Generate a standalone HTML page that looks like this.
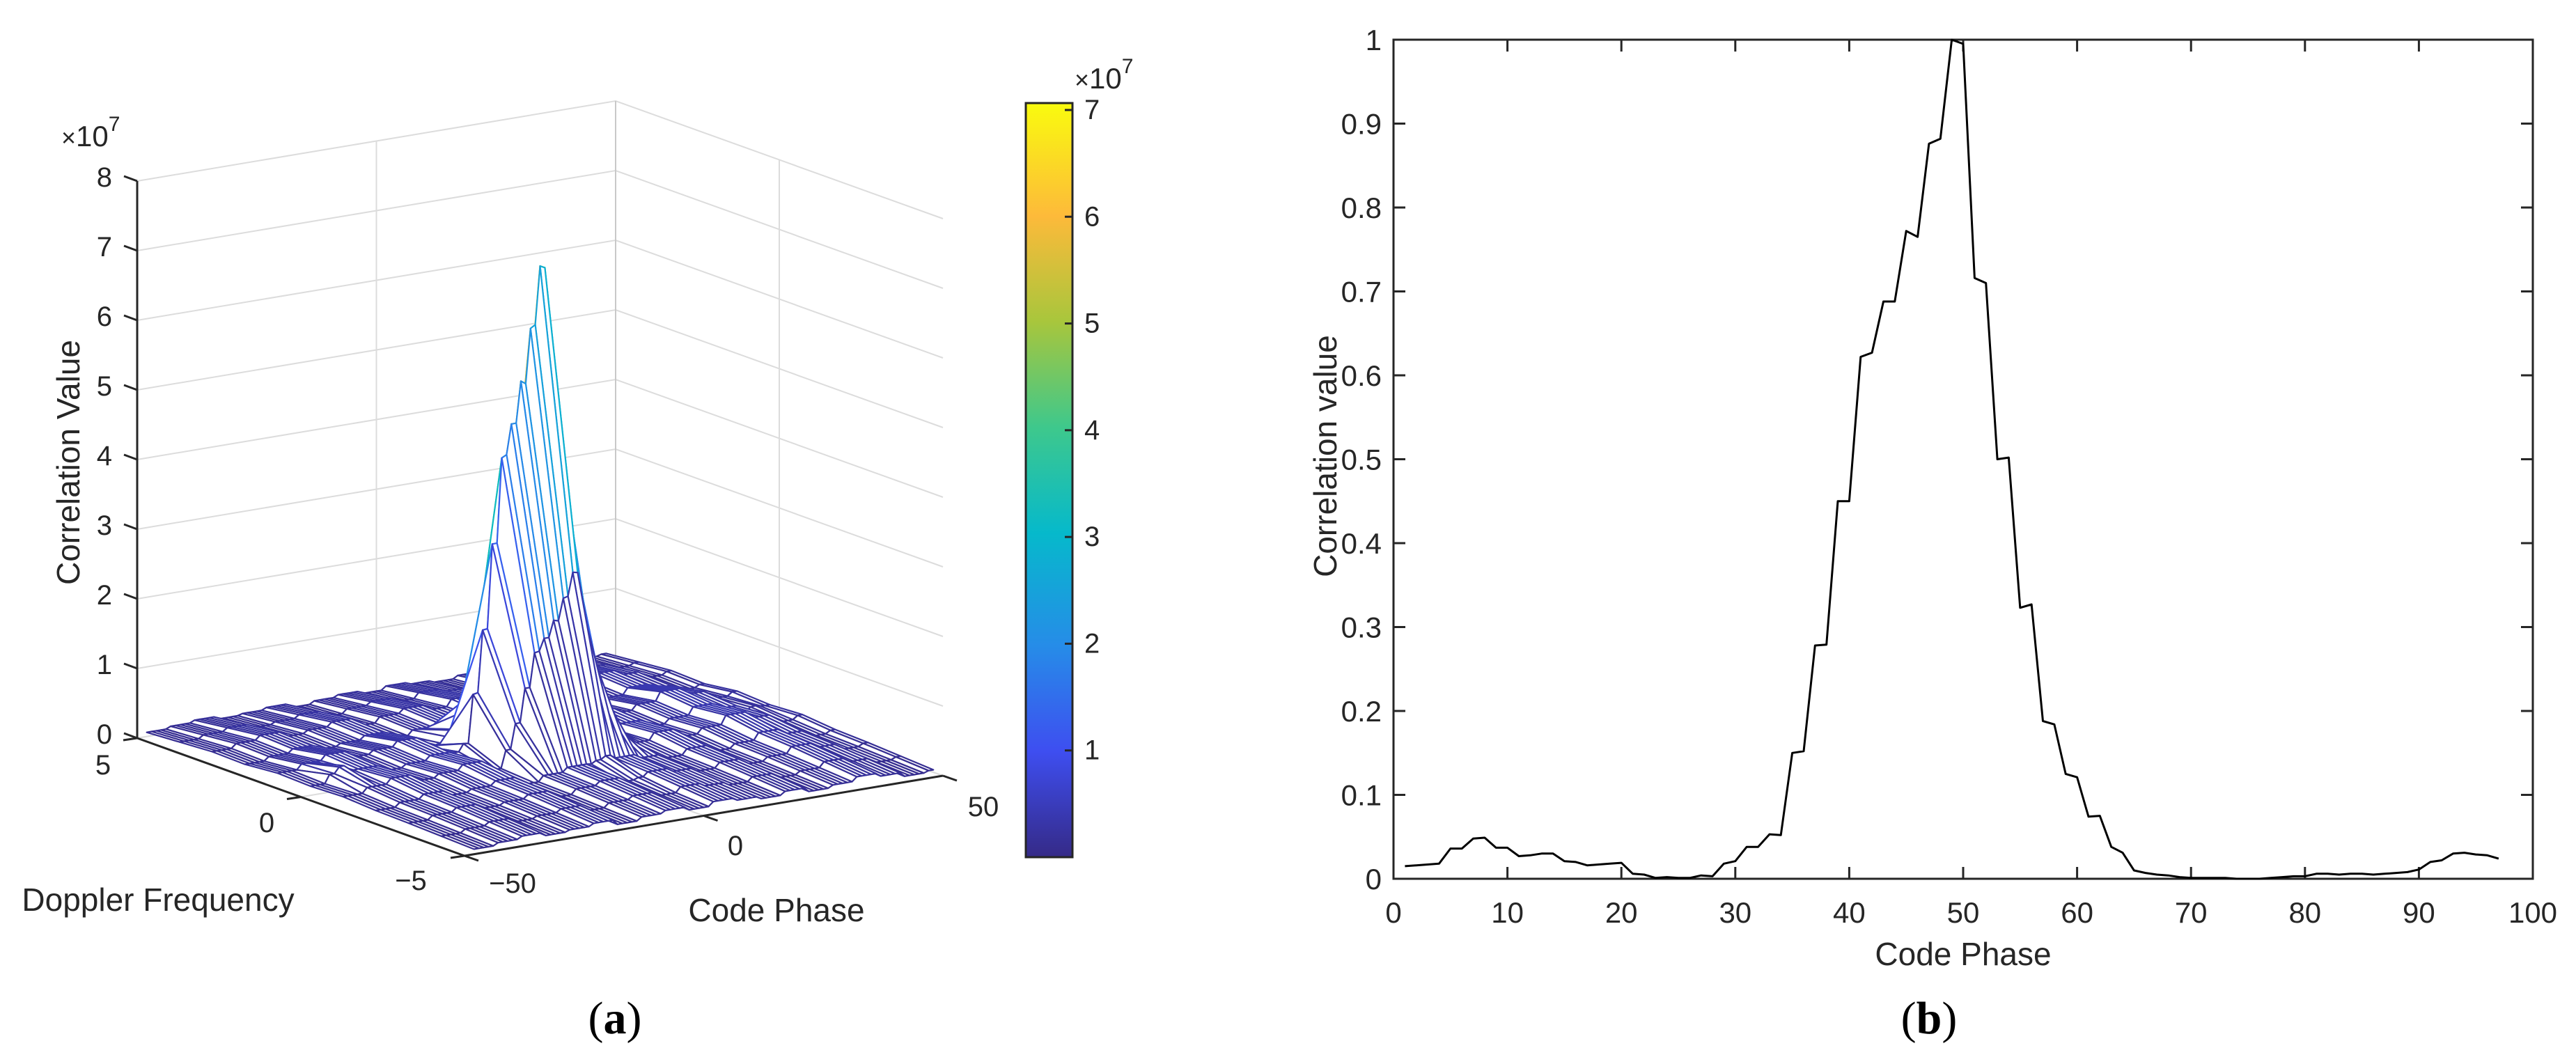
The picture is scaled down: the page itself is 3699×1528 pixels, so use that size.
<!DOCTYPE html>
<html><head><meta charset="utf-8"><style>
html,body{margin:0;padding:0;background:#fff}
svg{display:block}
text{font-family:"Liberation Sans",Arial,sans-serif;fill:#262626}
</style></head><body>
<svg id="fig" width="3699" height="1528" viewBox="0 0 3699 1528" xmlns="http://www.w3.org/2000/svg">
<rect width="3699" height="1528" fill="#fff"/>
<g id="left"></g>
<g id="right"></g>
<text x="883" y="1484" font-size="66" text-anchor="middle" style="font-family:'Liberation Serif',serif;fill:#000">(<tspan font-weight="bold">a</tspan>)</text>
<text x="2770" y="1484" font-size="66" text-anchor="middle" style="font-family:'Liberation Serif',serif;fill:#000">(<tspan font-weight="bold">b</tspan>)</text>
</svg>
<script>
// ---- data: correlation vs code phase (panel b), index 1..97
const codePhase = [];
for (let i = 1; i <= 97; i++) codePhase.push(i);
const corrValues = [0.015,0.016,0.017,0.018,0.036,0.036,0.048,0.049,0.037,0.037,0.027,0.028,0.030,0.030,0.021,0.020,0.016,0.017,0.018,0.019,0.006,0.005,0.001,0.002,0.001,0.001,0.004,0.003,0.018,0.021,0.038,0.038,0.053,0.052,0.150,0.152,0.278,0.279,0.450,0.450,0.622,0.627,0.688,0.688,0.772,0.765,0.876,0.882,1.000,0.995,0.716,0.710,0.500,0.502,0.323,0.327,0.188,0.184,0.125,0.121,0.074,0.075,0.038,0.031,0.010,0.007,0.005,0.004,0.002,0.001,0.001,0.001,0.001,0.000,0.000,0.000,0.001,0.002,0.003,0.003,0.006,0.006,0.005,0.006,0.006,0.005,0.006,0.007,0.008,0.011,0.020,0.022,0.030,0.031,0.029,0.028,0.024];
const xTicks = [0,10,20,30,40,50,60,70,80,90,100];
const yTicks = [0,0.1,0.2,0.3,0.4,0.5,0.6,0.7,0.8,0.9,1];
const yTickLabels = ["0","0.1","0.2","0.3","0.4","0.5","0.6","0.7","0.8","0.9","1"];
// ---- data: 3D surface (panel a)
const dopplerBins = [5,4,3,2,1,0,-1,-2,-3,-4,-5];
const dopplerProfile = [0.01,0.02,0.02,0.03,0.18,1.00,0.40,0.05,0.03,0.02,0.01];
const floorRows = [0.10,0.15,0.20,0.18,0.25,0.22,0.25,0.20,0.18,0.15,0.12];
const floorCode = [0.6,0.9,1.2,0.8,1.0,1.3,0.7,1.1,1.4,1.0,1.5,1.2,0.9,1.3,0.8,1.1,1.6,1.2,0.7,0.9];
const peakValue = 7.05; // x1e7
const zTicks = [0,1,2,3,4,5,6,7,8];
const dopTicks = [5,0,-5];
const codeTicks = [-50,0,50];
const cbTicks = [1,2,3,4,5,6,7];

const NS = "http://www.w3.org/2000/svg";
function mk(parent, tag, attrs, txt) {
  const e = document.createElementNS(NS, tag);
  for (const k in attrs) e.setAttribute(k, attrs[k]);
  if (txt !== undefined) e.textContent = txt;
  parent.appendChild(e);
  return e;
}

// ================= panel b =================
const R = document.getElementById('right');
const L = 2001, Rt = 3637, T = 57, B = 1262;
const sx = v => L + (v - 0) / 100 * (Rt - L);
const sy = v => B - v * (B - T);
let e;
e = mk(R, 'rect', {x: L, y: T, width: Rt - L, height: B - T, fill: 'none', stroke: '#262626', 'stroke-width': 3});


xTicks.forEach(t => {
  const x = sx(t);
  e = mk(R, 'line', {x1: x, y1: B, x2: x, y2: B - 17, stroke: '#262626', 'stroke-width': 3});
  
  
  e = mk(R, 'line', {x1: x, y1: T, x2: x, y2: T + 17, stroke: '#262626', 'stroke-width': 3});
  
  
  e = mk(R, 'text', {x: x, y: 1325, 'font-size': 42, 'text-anchor': 'middle'}, String(t));
  
  
});
yTicks.forEach((t, i) => {
  const y = sy(t);
  e = mk(R, 'line', {x1: L, y1: y, x2: L + 17, y2: y, stroke: '#262626', 'stroke-width': 3});
  
  
  e = mk(R, 'line', {x1: Rt, y1: y, x2: Rt - 17, y2: y, stroke: '#262626', 'stroke-width': 3});
  
  
  e = mk(R, 'text', {x: 1984, y: y + 15, 'font-size': 42, 'text-anchor': 'end'}, yTickLabels[i]);
  
  
});
e = mk(R, 'polyline', {points: codePhase.map((c, i) => sx(c).toFixed(1) + ',' + sy(corrValues[i]).toFixed(1)).join(' '), fill: 'none', stroke: '#000', 'stroke-width': 3, 'stroke-linejoin': 'round'});


e = mk(R, 'text', {x: 2819, y: 1386, 'font-size': 46, 'text-anchor': 'middle'}, 'Code Phase');


e = mk(R, 'text', {x: 0, y: 0, 'font-size': 46, 'text-anchor': 'middle', transform: 'translate(1919,655) rotate(-90)'}, 'Correlation value');



// ================= panel a =================
const A = document.getElementById('left');
const O = [197, 1060];
const DV = [470, 169];   // doppler 5 -> -5
const CV = [687, -115];  // code -50 -> 50
const ZS = 100;          // px per 1e7
function P(code, dop, z) {
  const u = (5 - dop) / 10, v = (code + 50) / 100;
  return [O[0] + u * DV[0] + v * CV[0], O[1] + u * DV[1] + v * CV[1] - z * ZS];
}
const grid = '#dcdcdc';
zTicks.forEach(z => {
  const a = P(-50, 5, z), b = P(50, 5, z), c = P(50, -5, z);
  e = mk(A, 'polyline', {points: a.join(',') + ' ' + b.join(',') + ' ' + c.join(','), fill: 'none', stroke: grid, 'stroke-width': 2});
  
  
});
[[0, 5], [50, 5], [50, 0]].forEach(([c, d]) => {
  const a = P(c, d, 0), b = P(c, d, 8);
  e = mk(A, 'line', {x1: a[0], y1: a[1], x2: b[0], y2: b[1], stroke: c === 50 && d === 5 ? '#c8c8c8' : grid, 'stroke-width': 2});
  
  
});
codeTicks.forEach(c => {
  const a = P(c, 5, 0), b = P(c, -5, 0);
  e = mk(A, 'line', {x1: a[0], y1: a[1], x2: b[0], y2: b[1], stroke: grid, 'stroke-width': 2});
  
  
});
dopTicks.forEach(d => {
  const a = P(-50, d, 0), b = P(50, d, 0);
  e = mk(A, 'line', {x1: a[0], y1: a[1], x2: b[0], y2: b[1], stroke: grid, 'stroke-width': 2});
  
  
});

const cmap = [[0,[53,42,135]],[0.14,[62,78,240]],[0.28,[38,140,232]],[0.43,[6,185,203]],[0.57,[62,200,140]],[0.71,[168,198,60]],[0.85,[253,186,58]],[1,[249,251,14]]];
function col(t) {
  t = Math.max(0, Math.min(1, t));
  for (let i = 1; i < cmap.length; i++) {
    if (t <= cmap[i][0]) {
      const [t0, c0] = cmap[i - 1], [t1, c1] = cmap[i];
      const f = (t - t0) / (t1 - t0);
      return 'rgb(' + c0.map((v, k) => Math.round(v + (c1[k] - v) * f)).join(',') + ')';
    }
  }
  return 'rgb(249,251,14)';
}
const cbMin = 0, cbMax = 7.065;
const Z = dopplerBins.map((d, di) => codePhase.map((c, ci) =>
  Math.max(peakValue * corrValues[ci] * dopplerProfile[di], floorRows[di] * floorCode[Math.floor(ci / 5)])));
const codeOf = ci => codePhase[ci] - 49;
const quads = [];
for (let di = 0; di < dopplerBins.length - 1; di++) {
  for (let ci = 0; ci < codePhase.length - 1; ci++) {
    const pts = [[ci, di], [ci + 1, di], [ci + 1, di + 1], [ci, di + 1]].map(([c, d]) => P(codeOf(c), dopplerBins[d], Z[d][c]));
    const base = P((codeOf(ci) + codeOf(ci + 1)) / 2, (dopplerBins[di] + dopplerBins[di + 1]) / 2, 0);
    const zv = Z[di + 1][ci];
    quads.push({pts, depth: base[1], zv});
  }
}
quads.sort((a, b) => a.depth - b.depth);
const SG = mk(A, 'g', {'stroke-width': 2.2, 'stroke-linejoin': 'round'});


quads.forEach(q => {
  e = mk(SG, 'polygon', {points: q.pts.map(p => p[0].toFixed(1) + ',' + p[1].toFixed(1)).join(' '), fill: '#fff', stroke: col((q.zv - cbMin) / (cbMax - cbMin))});
  
  
});

const ax = '#262626';
function seg(a, b, name) {
  const l = mk(A, 'line', {x1: a[0], y1: a[1], x2: b[0], y2: b[1], stroke: ax, 'stroke-width': 3});
  
  
}
seg(P(-50, 5, 0), P(-50, 5, 8), 'z-axis-line');
seg(P(-50, 5, 0), P(-50, -5, 0), 'doppler-axis-line');
seg(P(-50, -5, 0), P(50, -5, 0), 'code-axis-line');
zTicks.forEach(z => {
  const p = P(-50, 5, z);
  seg(p, [p[0] - 19, p[1] - 7], 'z-tick');
  e = mk(A, 'text', {x: 161, y: p[1] + 8, 'font-size': 40, 'text-anchor': 'end'}, String(z));
  
  
});
const dopLabelPos = [[148, 1112], [383, 1195], [590, 1278]];
dopTicks.forEach((d, i) => {
  const p = P(-50, d, 0);
  seg(p, [p[0] - 20, p[1] + 3], 'doppler-tick');
  e = mk(A, 'text', {x: dopLabelPos[i][0], y: dopLabelPos[i][1], 'font-size': 40, 'text-anchor': 'middle'}, d < 0 ? '\u2212' + Math.abs(d) : String(d));
  
  
});
const codeLabelPos = [[736, 1282], [1056, 1228], [1412, 1172]];
codeTicks.forEach((c, i) => {
  const p = P(c, -5, 0);
  seg(p, [p[0] + 20, p[1] + 7], 'code-tick');
  e = mk(A, 'text', {x: codeLabelPos[i][0], y: codeLabelPos[i][1], 'font-size': 40, 'text-anchor': 'middle'}, c < 0 ? '\u2212' + Math.abs(c) : String(c));
  
  
});
e = mk(A, 'text', {x: 88, y: 210, 'font-size': 42}, '');
e.innerHTML = '<tspan font-size="36">\u00d7</tspan>10<tspan dy="-22" font-size="30">7</tspan>';


e = mk(A, 'text', {x: 0, y: 0, 'font-size': 46, 'text-anchor': 'middle', transform: 'translate(114,664) rotate(-90)'}, 'Correlation Value');


e = mk(A, 'text', {x: 227, y: 1308, 'font-size': 46, 'text-anchor': 'middle'}, 'Doppler Frequency');


e = mk(A, 'text', {x: 1115, y: 1323, 'font-size': 46, 'text-anchor': 'middle'}, 'Code Phase');



const cbL = 1473, cbR = 1540, cbT = 148, cbB = 1231;
const cbY = v => cbB - (v - cbMin) / (cbMax - cbMin) * (cbB - cbT);
const defs = mk(A, 'defs', {});
const lg = mk(defs, 'linearGradient', {id: 'parula', x1: 0, y1: 1, x2: 0, y2: 0});
cmap.forEach(([t, c]) => mk(lg, 'stop', {offset: t, 'stop-color': 'rgb(' + c.join(',') + ')'}));
e = mk(A, 'rect', {x: cbL, y: cbT, width: cbR - cbL, height: cbB - cbT, fill: 'url(#parula)', stroke: '#262626', 'stroke-width': 3});


cbTicks.forEach(t => {
  const y = cbY(t);
  e = mk(A, 'line', {x1: cbR, y1: y, x2: cbR - 11, y2: y, stroke: '#262626', 'stroke-width': 3});
  
  
  e = mk(A, 'text', {x: 1557, y: y + 13, 'font-size': 40}, String(t));
  
  
});
e = mk(A, 'text', {x: 1543, y: 127, 'font-size': 42}, '');
e.innerHTML = '<tspan font-size="36">\u00d7</tspan>10<tspan dy="-22" font-size="30">7</tspan>';


</script>
</body></html>
